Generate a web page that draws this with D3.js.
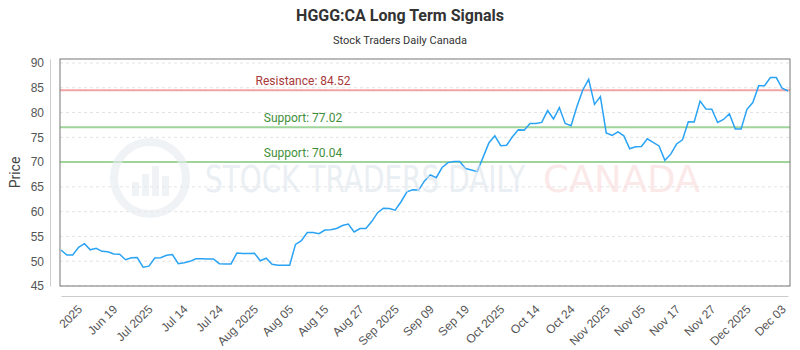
<!DOCTYPE html>
<html>
<head>
<meta charset="utf-8">
<script src="https://cdn.jsdelivr.net/npm/d3@7"></script>
<style>
  body { margin: 0; background: #fff; }
  svg { font-family: Roboto, "Open Sans", sans-serif; }
  .grid line { stroke: #e3e3e3; stroke-dasharray: 3,3; }
  .axis path, .axis line { stroke: #ccc; }
  .axis text { fill: #555; font-size: 12px; }
</style>
</head>
<body>
<div id="chart"></div>
<script>
// daily closes, one per trading day
const values = [
  52.26, 51.25, 51.25, 52.8, 53.55, 52.3, 52.6, 52.0, 51.9, 51.45,
  51.4, 50.3, 50.7, 50.75, 48.8, 49.0, 50.65, 50.7, 51.2, 51.35,
  49.5, 49.7, 49.98, 50.5, 50.5, 50.45, 50.45, 49.5, 49.45, 49.45,
  51.65, 51.55, 51.55, 51.6, 50.1, 50.6, 49.4, 49.2, 49.2, 49.2,
  53.4, 54.15, 55.8, 55.8, 55.55, 56.3, 56.35, 56.6, 57.2, 57.5,
  55.9, 56.6, 56.6, 58.0, 59.8, 60.7, 60.65, 60.3, 62.0, 64.0,
  64.4, 64.35, 66.2, 67.4, 66.85, 68.9, 69.9, 70.1, 70.1, 68.7,
  68.4, 68.06, 71.0, 73.9, 75.3, 73.3, 73.4, 75.1, 76.5, 76.45,
  77.8, 77.8, 78.0, 80.4, 78.7, 81.0, 77.8, 77.35, 81.2, 84.55,
  86.7, 81.65, 83.2, 75.9, 75.4, 76.1, 75.3, 72.7, 73.1, 73.15,
  74.7, 74.0, 73.25, 70.35, 71.6, 73.65, 74.5, 78.15, 78.1, 82.3,
  80.7, 80.65, 78.0, 78.6, 79.75, 76.7, 76.7, 80.65, 82.0, 85.4,
  85.4, 87.05, 87.05, 84.9, 84.35
];
const tickLabels = ['2025', 'Jun 19', 'Jul 2025', 'Jul 14', 'Jul 24', 'Aug 2025', 'Aug 05',
  'Aug 15', 'Aug 27', 'Sep 2025', 'Sep 09', 'Sep 19', 'Oct 2025', 'Oct 14', 'Oct 24',
  'Nov 2025', 'Nov 05', 'Nov 17', 'Nov 27', 'Dec 2025', 'Dec 03'];
const tickIndex = [3, 9, 15, 21, 27, 33, 39, 45, 51, 57, 63, 69, 75, 81, 87, 93, 99, 105, 111, 117, 123];
const yTicks = [45, 50, 55, 60, 65, 70, 75, 80, 85, 90];
const levels = [
  {name: 'Resistance', value: 84.52},
  {name: 'Support', value: 77.02},
  {name: 'Support', value: 70.04}
];

class SignalChart {
  width; height; margin;
  svg; plot;
  scaleX; scaleY;

  constructor(container, width, height, margin) {
    this.width = width;
    this.height = height;
    this.margin = margin; // [top, bottom, left, right]
    this.svg = d3.select(container).append('svg')
      .attr('width', width)
      .attr('height', height);
    this.plot = this.svg.append('g')
      .attr('transform', `translate(${margin[2]},${margin[0]})`);
  }

  #updateScales() {
    let w = this.width - this.margin[2] - this.margin[3];
    let h = this.height - this.margin[0] - this.margin[1];
    this.w = w; this.h = h;
    this.scaleX = d3.scalePoint(d3.range(values.length), [1, w - 2]);
    this.scaleY = d3.scaleLinear([45, 90.8], [h, 0]);
  }

  #drawTitles() {
    this.svg.append('text')
      .attr('x', 400).attr('y', 21)
      .attr('text-anchor', 'middle')
      .style('font-size', '16px').style('font-weight', 'bold').style('fill', '#333')
      .text('HGGG:CA Long Term Signals');
    this.svg.append('text')
      .attr('x', 400).attr('y', 44)
      .attr('text-anchor', 'middle')
      .style('font-size', '11px').style('fill', '#333')
      .text('Stock Traders Daily Canada');
  }

  #drawWatermark() {
    let g = this.svg.append('g').attr('opacity', 0.6);
    g.append('circle').attr('cx', 150).attr('cy', 178).attr('r', 36)
      .attr('fill', 'none').attr('stroke', '#e6ecf1').attr('stroke-width', 8);
    [[-18, 14], [-8, 22], [2, 30], [12, 20]].forEach(([dx, hh]) => {
      g.append('rect').attr('x', 150 + dx).attr('y', 196 - hh).attr('width', 7).attr('height', hh)
        .attr('fill', '#e6ecf1');
    });
    g.append('text').attr('x', 205).attr('y', 192)
      .attr('textLength', 320).attr('lengthAdjust', 'spacingAndGlyphs')
      .style('font-size', '38px').style('font-family', '"DejaVu Sans Condensed", "DejaVu Sans"')
      .style('fill', '#dde5ec').text('STOCK TRADERS DAILY');
    g.append('text').attr('x', 543).attr('y', 192)
      .attr('textLength', 157).attr('lengthAdjust', 'spacingAndGlyphs')
      .style('font-size', '38px').style('font-family', '"DejaVu Sans Condensed", "DejaVu Sans"')
      .style('fill', '#fadcdc').text('CANADA');
  }

  #drawAxes() {
    // grid
    this.plot.append('g').attr('class', 'grid')
      .selectAll('line').data(yTicks).join('line')
      .attr('x1', 0).attr('x2', this.w)
      .attr('y1', d => this.scaleY(d)).attr('y2', d => this.scaleY(d));

    // offset y axis
    let axisY = d3.axisLeft(this.scaleY).tickValues(yTicks).tickSize(0).tickPadding(6);
    this.svg.append('g').attr('class', 'axis')
      .attr('transform', `translate(${this.margin[2] - 10},${this.margin[0]})`)
      .call(axisY);

    // offset x axis
    let axisX = d3.axisBottom(this.scaleX).tickValues(tickIndex)
      .tickFormat((d, i) => tickLabels[i]).tickSize(0);
    this.svg.append('g').attr('class', 'axis')
      .attr('transform', `translate(${this.margin[2]},${this.margin[0] + this.h + 10})`)
      .call(axisX)
      .selectAll('text')
      .attr('text-anchor', 'end')
      .attr('y', 0)
      .attr('dy', '0.35em')
      .attr('transform', 'translate(1,11) rotate(-45)');

    this.svg.append('text')
      .attr('transform', `translate(20,${this.margin[0] + this.h / 2}) rotate(-90)`)
      .attr('text-anchor', 'middle')
      .style('font-size', '14px').style('fill', '#444')
      .text('Price');
  }

  #drawLevels() {
    let g = this.plot.append('g');
    g.selectAll('line').data(levels).join('line')
      .attr('x1', 0).attr('x2', this.w)
      .attr('y1', d => this.scaleY(d.value)).attr('y2', d => this.scaleY(d.value))
      .attr('stroke', d => d.name === 'Resistance' ? '#f2a3a3' : '#9fd49a')
      .attr('stroke-width', 2);
    g.selectAll('text').data(levels).join('text')
      .attr('x', 243).attr('y', d => this.scaleY(d.value) - 5)
      .attr('text-anchor', 'middle')
      .style('font-size', '12px')
      .style('fill', d => d.name === 'Resistance' ? '#a83a3a' : '#3f8f3a')
      .text(d => `${d.name}: ${d.value.toFixed(2)}`);
  }

  #drawLine() {
    let line = d3.line()
      .x((d, i) => this.scaleX(i))
      .y(d => this.scaleY(d));
    this.plot.append('path')
      .datum(values)
      .attr('fill', 'none')
      .attr('stroke', '#2aa3f5')
      .attr('stroke-width', 1.5)
      .attr('d', line);
  }

  #drawFrame() {
    this.plot.append('rect')
      .attr('x', 0).attr('y', 0).attr('width', this.w).attr('height', this.h)
      .attr('fill', 'none').attr('stroke', '#777').attr('stroke-width', 1);
  }

  render() {
    this.#updateScales();
    this.#drawTitles();
    this.#drawWatermark();
    this.#drawAxes();
    this.#drawLevels();
    this.#drawLine();
    this.#drawFrame();
    return this;
  }
}

new SignalChart('#chart', 800, 350, [59, 64, 60, 10]).render();
</script>
</body>
</html>
